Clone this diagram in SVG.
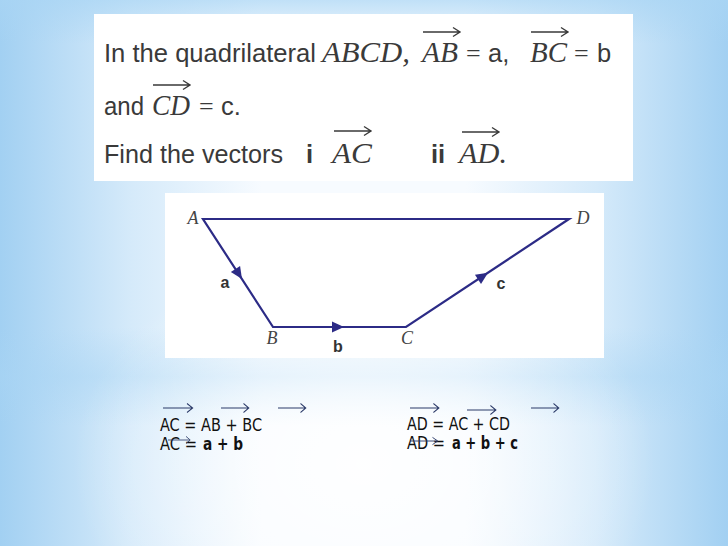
<svg xmlns="http://www.w3.org/2000/svg" width="728" height="546" viewBox="0 0 728 546">
<defs>
<linearGradient id="bgH" x1="0" y1="0" x2="1" y2="0">
<stop offset="0" stop-color="#a2d0f2"/>
<stop offset="0.18" stop-color="#d5eafa"/>
<stop offset="0.36" stop-color="#f7fbff"/>
<stop offset="0.64" stop-color="#f7fbff"/>
<stop offset="0.82" stop-color="#d5eafa"/>
<stop offset="1" stop-color="#a2d0f2"/>
</linearGradient>
<linearGradient id="bgV" x1="0" y1="0" x2="0" y2="1">
<stop offset="0" stop-color="#a9d5f4" stop-opacity="0.7"/>
<stop offset="0.08" stop-color="#a9d5f4" stop-opacity="0"/>
<stop offset="0.6" stop-color="#a9d5f4" stop-opacity="0"/>
<stop offset="0.69" stop-color="#a9d5f4" stop-opacity="0.45"/>
<stop offset="0.78" stop-color="#a9d5f4" stop-opacity="0"/>
<stop offset="1" stop-color="#a9d5f4" stop-opacity="0"/>
</linearGradient>
<radialGradient id="bgC" cx="0.5" cy="0.85" r="0.4">
<stop offset="0" stop-color="#ffffff" stop-opacity="0.9"/>
<stop offset="1" stop-color="#ffffff" stop-opacity="0"/>
</radialGradient>
<path id="head" d="M0,0 L-12,-5.5 L-12,5.5 Z"/>
<path id="vec" d="M0,0 H36 M30,-4.5 L37,0 L30,4.5"/>
</defs>
<style>
.sans{font-family:"Liberation Sans",Arial,sans-serif;fill:#3a3a3a}
.it{font-family:"Liberation Serif","Times New Roman",serif;font-style:italic;fill:#3a3a3a}
.ser{font-family:"Liberation Serif","Times New Roman",serif;fill:#3a3a3a}
.bsans{font-family:"Liberation Sans",Arial,sans-serif;font-weight:bold;fill:#3a3a3a}
.vec{fill:none;stroke:#3a3a3a;stroke-width:1.4}
.edge{stroke:#2c2b86;stroke-width:2.2;fill:none;stroke-linejoin:miter}
.head{fill:#2c2b86}
.lab{font-family:"Liberation Serif","Times New Roman",serif;font-style:italic;font-size:18px;fill:#444;text-anchor:middle}
.blab{font-family:"Liberation Sans",Arial,sans-serif;font-weight:bold;font-size:16px;fill:#333;text-anchor:middle}
.eq{font-family:"DejaVu Sans",sans-serif;font-stretch:condensed;font-size:17px;fill:#111}
.eqb{font-family:"DejaVu Sans",sans-serif;font-stretch:condensed;font-weight:bold;font-size:17px;fill:#111}
.sv{fill:none;stroke:#2b3a68;stroke-width:1.2}
</style>
<rect x="0" y="0" width="728" height="546" fill="url(#bgH)"/>
<rect x="0" y="0" width="728" height="546" fill="url(#bgV)"/>
<rect x="0" y="0" width="728" height="546" fill="url(#bgC)"/>

<g id="question">
<rect x="94" y="14" width="539" height="167" fill="#ffffff"/>
<text class="sans" x="104" y="62" font-size="25.5" textLength="212" lengthAdjust="spacingAndGlyphs">In the quadrilateral</text>
<text class="it" x="322" y="62" font-size="29" textLength="88" lengthAdjust="spacingAndGlyphs">ABCD,</text>
<text class="it" x="422" y="62" font-size="29" textLength="36" lengthAdjust="spacingAndGlyphs">AB</text>
<use href="#vec" class="vec" transform="translate(423,32)"/>
<text class="ser" x="466" y="62" font-size="26">=</text>
<text class="sans" x="488" y="62" font-size="25.5">a,</text>
<text class="it" x="530" y="62" font-size="29" textLength="37" lengthAdjust="spacingAndGlyphs">BC</text>
<use href="#vec" class="vec" transform="translate(531,32)"/>
<text class="ser" x="574" y="62" font-size="26">=</text>
<text class="sans" x="597" y="62" font-size="25.5">b</text>

<text class="sans" x="104" y="115" font-size="25.5" textLength="40" lengthAdjust="spacingAndGlyphs">and</text>
<text class="it" x="152" y="115" font-size="29" textLength="38" lengthAdjust="spacingAndGlyphs">CD</text>
<use href="#vec" class="vec" transform="translate(153,85)"/>
<text class="ser" x="199" y="115" font-size="26">=</text>
<text class="sans" x="221" y="115" font-size="25.5">c.</text>

<text class="sans" x="104" y="163" font-size="25.5" textLength="179" lengthAdjust="spacingAndGlyphs">Find the vectors</text>
<text class="bsans" x="306" y="163" font-size="25.5">i</text>
<text class="it" x="332" y="163" font-size="29" textLength="40" lengthAdjust="spacingAndGlyphs">AC</text>
<use href="#vec" class="vec" transform="translate(334,131)"/>
<text class="bsans" x="431" y="163" font-size="25.5">ii</text>
<text class="it" x="459" y="163" font-size="29" textLength="48" lengthAdjust="spacingAndGlyphs">AD.</text>
<use href="#vec" class="vec" transform="translate(462,132)"/>
</g>

<g id="figure">
<rect x="165" y="193" width="439" height="165" fill="#ffffff"/>
</g>

<g id="connectors">
<path class="edge" d="M203,219 H569 L406,327 H273 Z"/>
<use href="#head" class="head" transform="translate(242,279) rotate(57.05)"/>
<use href="#head" class="head" transform="translate(344,327)"/>
<use href="#head" class="head" transform="translate(488,272.7) rotate(-33.5)"/>
</g>

<g id="node-A"><text class="lab" x="193" y="224">A</text></g>
<g id="node-B"><text class="lab" x="272" y="344">B</text></g>
<g id="node-C"><text class="lab" x="407" y="344">C</text></g>
<g id="node-D"><text class="lab" x="583" y="224">D</text></g>
<g id="label-a"><text class="blab" x="225" y="288">a</text></g>
<g id="label-b"><text class="blab" x="338" y="352">b</text></g>
<g id="label-c"><text class="blab" x="501" y="289">c</text></g>

<g id="answer-AC">
<use href="#vec" class="sv" transform="translate(163,408) scale(0.8,1)"/>
<use href="#vec" class="sv" transform="translate(221,408) scale(0.75,1)"/>
<use href="#vec" class="sv" transform="translate(278,408) scale(0.75,1)"/>
<text class="eq" x="160" y="431" textLength="102" lengthAdjust="spacingAndGlyphs">AC = AB + BC</text>
<text class="eq" x="160" y="450" textLength="37" lengthAdjust="spacingAndGlyphs">AC =</text>
<text class="eqb" x="203" y="450" textLength="40" lengthAdjust="spacingAndGlyphs">a + b</text>
<use href="#vec" class="sv" transform="translate(168,440) scale(0.6,0.8)"/>
</g>

<g id="answer-AD">
<use href="#vec" class="sv" transform="translate(410,408) scale(0.78,1)"/>
<use href="#vec" class="sv" transform="translate(467,410) scale(0.78,1)"/>
<use href="#vec" class="sv" transform="translate(531,408) scale(0.75,1)"/>
<text class="eq" x="407" y="430" textLength="103" lengthAdjust="spacingAndGlyphs">AD = AC + CD</text>
<text class="eq" x="407" y="449" textLength="38" lengthAdjust="spacingAndGlyphs">AD =</text>
<text class="eqb" x="452" y="449" textLength="66" lengthAdjust="spacingAndGlyphs">a + b + c</text>
<use href="#vec" class="sv" transform="translate(410,441) scale(0.75,0.8)"/>
</g>
</svg>
